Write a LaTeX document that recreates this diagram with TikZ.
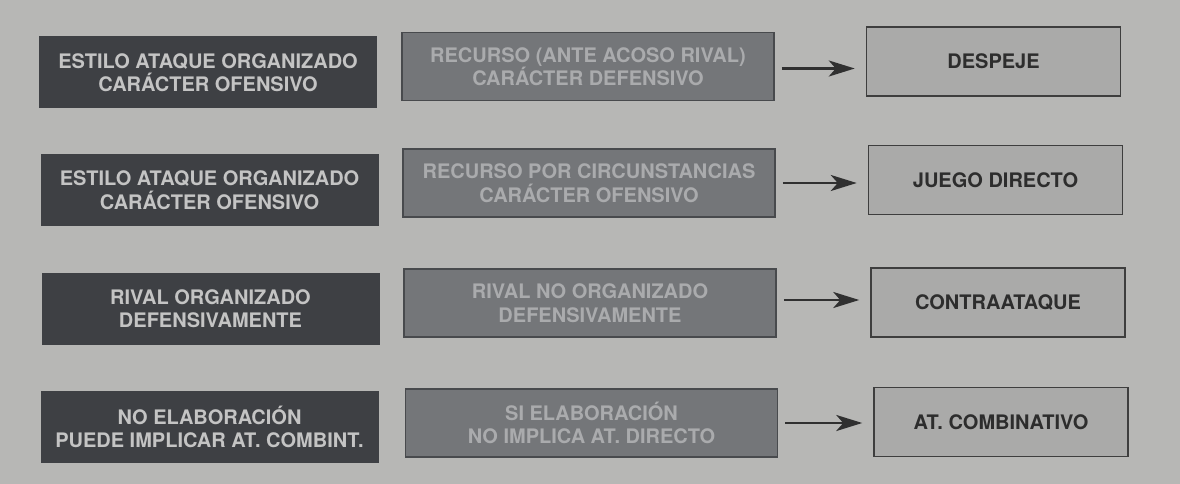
\documentclass[tikz,border=0pt]{standalone}
\usepackage{fontspec}
\setmainfont{TeX Gyre Heros}
\usetikzlibrary{arrows.meta}
\definecolor{bgc}{RGB}{183,183,181}
\definecolor{darkbox}{RGB}{62,64,68}
\definecolor{midbox}{RGB}{116,118,121}
\definecolor{midborder}{RGB}{72,74,77}
\definecolor{lighttext}{RGB}{196,196,196}
\definecolor{midtext}{RGB}{170,171,173}
\definecolor{rightbox}{RGB}{170,170,169}
\definecolor{rightborder}{RGB}{62,62,62}
\definecolor{darktext}{RGB}{45,45,45}
\definecolor{arrc}{RGB}{48,48,48}
\tikzset{
  boxtext/.style={font=\fontsize{20}{23.5}\selectfont\bfseries, align=center, inner sep=0pt, rectangle},
  leftbox/.style={boxtext, fill=darkbox, text=lighttext, minimum width=338pt, minimum height=72pt},
  midbox/.style={boxtext, fill=midbox, draw=midborder, line width=1.5pt, text=midtext, minimum width=372pt, minimum height=68pt},
  rightbox/.style={boxtext, fill=rightbox, draw=rightborder, line width=1.5pt, text=darktext, minimum width=254pt, minimum height=69pt},
  conn/.style={draw=arrc, line width=2.8pt, -{Stealth[length=26pt,width=16pt,inset=7pt]}, shorten <=7pt, shorten >=11pt}
}
\begin{document}
\begin{tikzpicture}[x=1pt,y=-1pt]
\path[fill=bgc] (0,0) rectangle (1180,484);
\useasboundingbox (0,0) rectangle (1180,484);
% row 1
\node[leftbox] (l1) at (208,72.5) {ESTILO ATAQUE ORGANIZADO\\CARÁCTER OFENSIVO};
\node[midbox] (m1) at (588,66.5) {RECURSO (ANTE ACOSO RIVAL)\\CARÁCTER DEFENSIVO};
\node[rightbox] (r1) at (993.5,61.5) {DESPEJE};
% row 2
\node[leftbox] (l2) at (209.5,190) {ESTILO ATAQUE ORGANIZADO\\CARÁCTER OFENSIVO};
\node[midbox] (m2) at (589,183) {RECURSO POR CIRCUNSTANCIAS\\CARÁCTER OFENSIVO};
\node[rightbox] (r2) at (995.5,180) {JUEGO DIRECTO};
% row 3
\node[leftbox] (l3) at (210.5,308.5) {RIVAL ORGANIZADO\\DEFENSIVAMENTE};
\node[midbox] (m3) at (590,303) {RIVAL NO ORGANIZADO\\DEFENSIVAMENTE};
\node[rightbox] (r3) at (998,302.5) {CONTRAATAQUE};
% row 4
\node[leftbox] (l4) at (209.5,427) {NO ELABORACIÓN\\PUEDE IMPLICAR AT. COMBINT.};
\node[midbox] (m4) at (591.5,423) {SI ELABORACIÓN\\NO IMPLICA AT. DIRECTO};
\node[rightbox] (r4) at (1001,422) {AT. COMBINATIVO};
% connectors
\coordinate (a1) at ([yshift=-2pt]m1.east);
\draw[conn] (a1) -- (a1 -| r1.west);
\coordinate (a2) at (m2.east);
\draw[conn] (a2) -- (a2 -| r2.west);
\coordinate (a3) at ([yshift=3pt]m3.east);
\draw[conn] (a3) -- (a3 -| r3.west);
\coordinate (a4) at (m4.east);
\draw[conn] (a4) -- (a4 -| r4.west);
\end{tikzpicture}
\end{document}
